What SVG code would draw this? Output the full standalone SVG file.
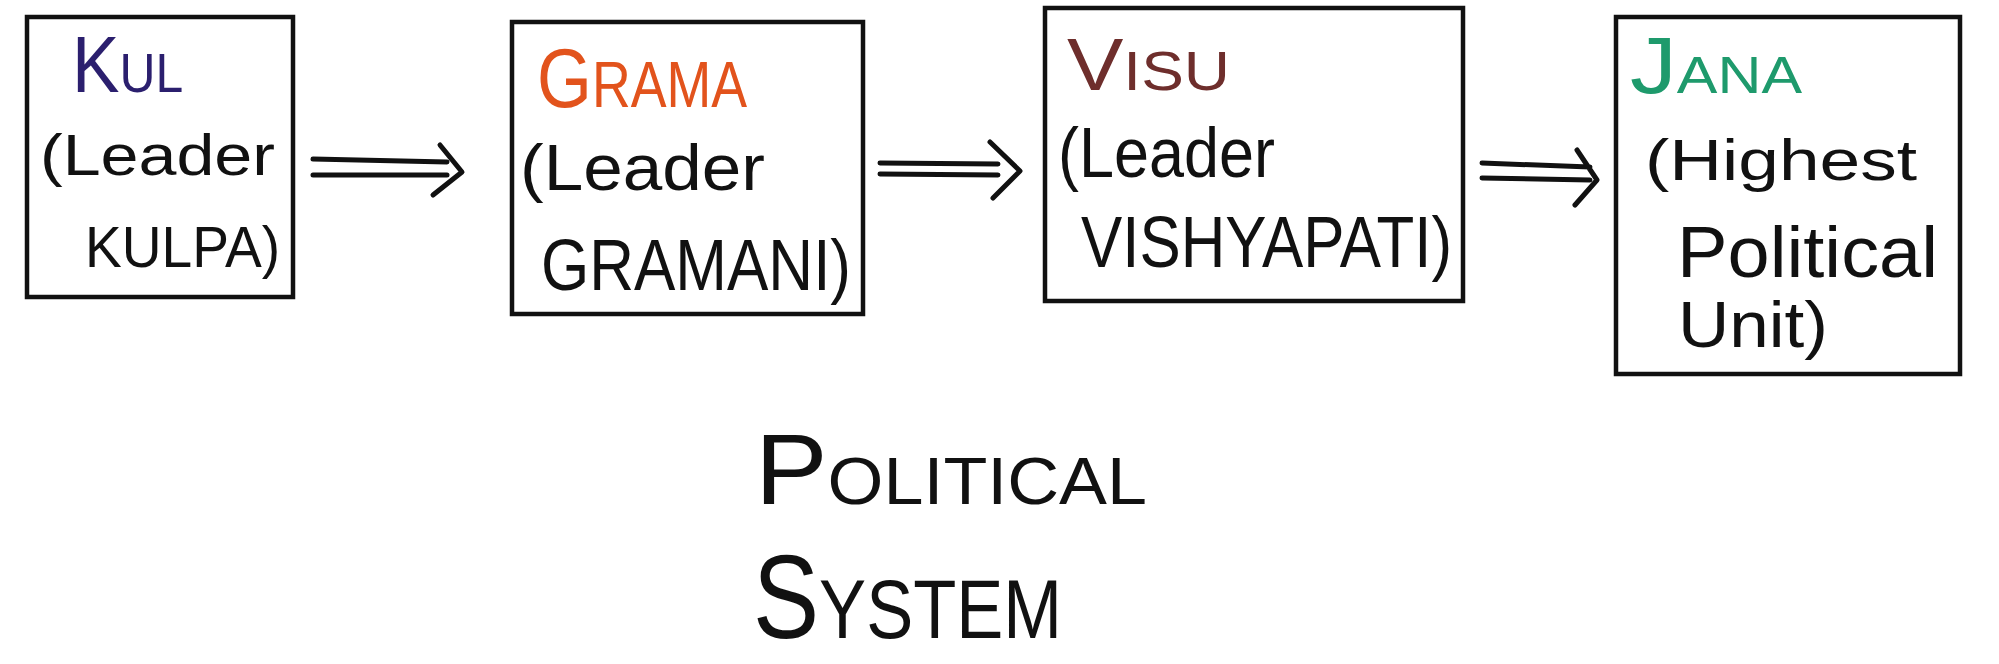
<svg xmlns="http://www.w3.org/2000/svg" width="1999" height="664" viewBox="0 0 1999 664">
<style>
.box{fill:none;stroke:#111;stroke-width:4.5;stroke-linejoin:miter}
.t{font-family:"Liberation Sans","DejaVu Sans",sans-serif;fill:#111}
.c{stroke:#111;stroke-width:5;fill:none;stroke-linecap:round;stroke-linejoin:round}
.kul{fill:#2b1f6e}
.grama{fill:#e2531c}
.visu{fill:#6e2e2c}
.jana{fill:#1e9a6c}
</style>
<rect width="1999" height="664" fill="#ffffff"/>
<g id="node-kul">
<rect class="box" x="27" y="17" width="266" height="280"/>
<text class="t kul" transform="translate(72,92) scale(0.89,1)" x="0" y="0"><tspan font-size="80">K</tspan><tspan font-size="56">UL</tspan></text>
<text class="t" x="40" y="175" font-size="58" textLength="235" lengthAdjust="spacingAndGlyphs">(Leader</text>
<text class="t" x="85" y="267" font-size="58" textLength="195" lengthAdjust="spacingAndGlyphs">KULPA)</text>
</g>
<g id="node-grama">
<rect class="box" x="512" y="22" width="351" height="292"/>
<text class="t grama" transform="translate(537,107) scale(0.84,1)" x="0" y="0"><tspan font-size="84">G</tspan><tspan font-size="64">RAMA</tspan></text>
<text class="t" x="520" y="190" font-size="64" textLength="245" lengthAdjust="spacingAndGlyphs">(Leader</text>
<text class="t" x="541" y="290" font-size="72" textLength="310" lengthAdjust="spacingAndGlyphs">GRAMANI)</text>
</g>
<g id="node-visu">
<rect class="box" x="1045" y="8" width="418" height="293"/>
<text class="t visu" x="1067" y="90" textLength="163" lengthAdjust="spacingAndGlyphs"><tspan font-size="74">V</tspan><tspan font-size="56">ISU</tspan></text>
<text class="t" x="1058" y="177" font-size="70" textLength="217" lengthAdjust="spacingAndGlyphs">(Leader</text>
<text class="t" x="1081" y="267" font-size="72" textLength="371" lengthAdjust="spacingAndGlyphs">VISHYAPATI)</text>
</g>
<g id="node-jana">
<rect class="box" x="1616" y="17" width="344" height="357"/>
<text class="t jana" x="1630" y="93" textLength="172" lengthAdjust="spacingAndGlyphs"><tspan font-size="80">J</tspan><tspan font-size="52">ANA</tspan></text>
<text class="t" x="1645" y="180" font-size="58" textLength="272" lengthAdjust="spacingAndGlyphs">(Highest</text>
<text class="t" x="1677" y="277" font-size="72" textLength="261" lengthAdjust="spacingAndGlyphs">Political</text>
<text class="t" x="1678" y="347" font-size="64" textLength="150" lengthAdjust="spacingAndGlyphs">Unit)</text>
</g>
<g id="title">
<text class="t" x="755" y="504" textLength="392" lengthAdjust="spacingAndGlyphs"><tspan font-size="100">P</tspan><tspan font-size="66">OLITICAL</tspan></text>
<text class="t" transform="translate(753,638) scale(0.84,1)" x="0" y="0"><tspan font-size="118">S</tspan><tspan font-size="84">YSTEM</tspan></text>
</g>
<g id="connectors">
<path class="c" d="M313 159 L447 162 M313 175 L447 175 M440 145 L462 172 L433 195"/>
<path class="c" d="M880 163 L998 164 M880 174 L998 175 M990 142 L1020 171 L993 198"/>
<path class="c" d="M1482 163 L1590 167 M1482 178 L1590 180 M1577 150 L1597 180 L1575 205"/>
</g>
</svg>
